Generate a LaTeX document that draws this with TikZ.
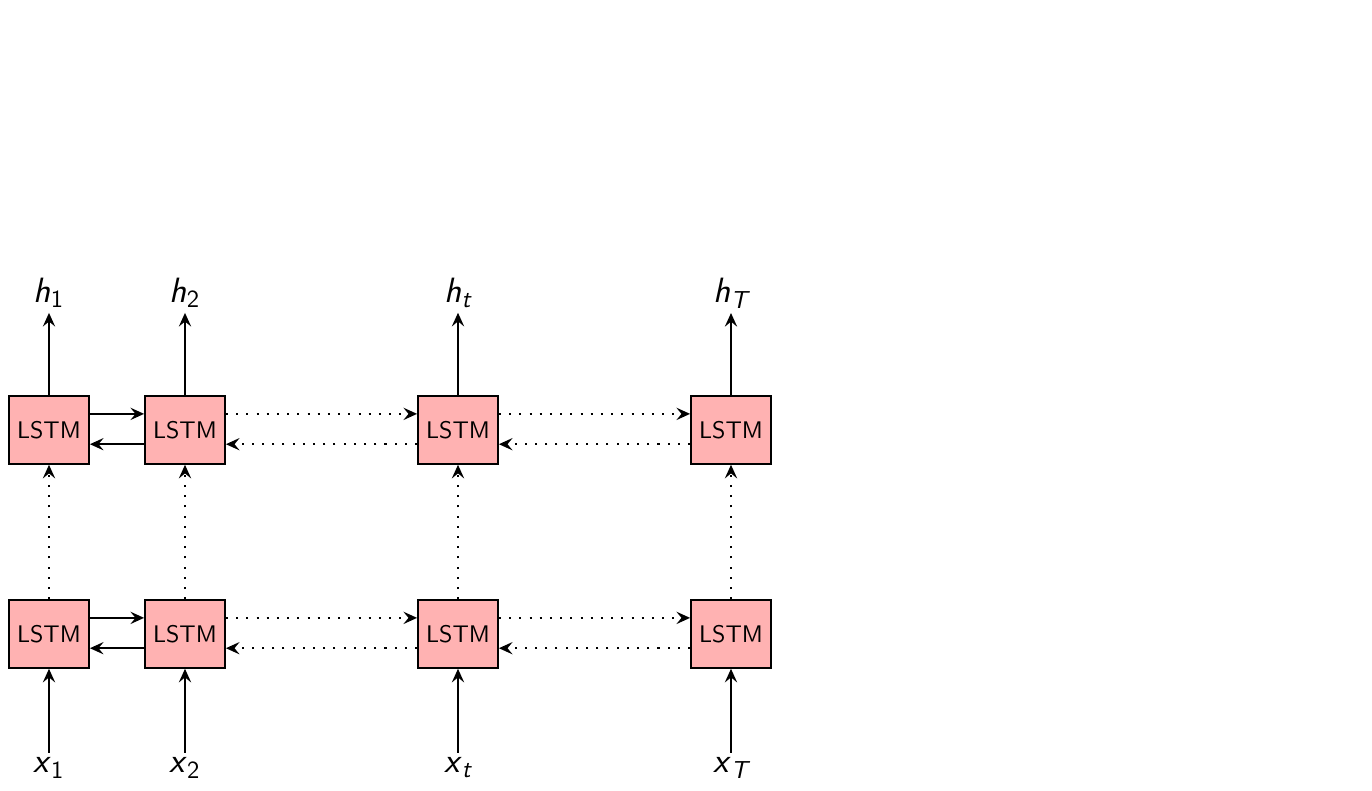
\documentclass[tikz,border=0pt]{standalone}
\usetikzlibrary{arrows.meta}
\tikzset{>={Stealth[length=6pt,width=5.4pt,inset=2.2pt]}}
\newcommand{\lbl}[2]{\textit{#1}\textsubscript{#2}}
\tikzset{
  cell/.style={draw,thick,fill=red!30,minimum width=1.24cm,minimum height=1.05cm,inner sep=0pt,font=\fontsize{10.6}{12}\sffamily},
  lab/.style={font=\fontsize{15.5}{18}\sffamily,inner sep=2pt},
  flow/.style={->,thick},
  skip/.style={->,thick,dash pattern=on 0.9pt off 3.6pt}
}
\begin{document}
\begin{tikzpicture}[x=0.0155cm,y=-0.0155cm]
    \useasboundingbox (0,0) rectangle (1372,790);
    % upper layer
    \node[cell](u1) at (49,430) {LSTM};
    \node[cell](u2) at (185,430) {LSTM};
    \node[cell](ut) at (458,430) {LSTM};
    \node[cell](uT) at (731,430) {LSTM};
    % lower layer
    \node[cell](l1) at (49,634) {LSTM};
    \node[cell](l2) at (185,634) {LSTM};
    \node[cell](lt) at (458,634) {LSTM};
    \node[cell](lT) at (731,634) {LSTM};
    % outputs and inputs
    \node[lab](h1) at (49,293) {\lbl{h}{1}};
    \node[lab](h2) at (185,293) {\lbl{h}{2}};
    \node[lab](ht) at (458,293) {\lbl{h}{\itshape t}};
    \node[lab](hT) at (731,293) {\lbl{h}{\itshape T}};
    \node[lab](x1) at (49,768) {\lbl{x}{1}};
    \node[lab](x2) at (185,768) {\lbl{x}{2}};
    \node[lab](xt) at (458,768) {\lbl{x}{\itshape t}};
    \node[lab](xT) at (731,768) {\lbl{x}{\itshape T}};
    \draw[flow] (u1.north)--(h1.south);
    \draw[flow] (u2.north)--(h2.south);
    \draw[flow] (ut.north)--(ht.south);
    \draw[flow] (uT.north)--(hT.south);
    \draw[flow] (x1.north)--(l1.south);
    \draw[flow] (x2.north)--(l2.south);
    \draw[flow] (xt.north)--(lt.south);
    \draw[flow] (xT.north)--(lT.south);
    % between the layers
    \draw[skip] (l1.north)--(u1.south);
    \draw[skip] (l2.north)--(u2.south);
    \draw[skip] (lt.north)--(ut.south);
    \draw[skip] (lT.north)--(uT.south);
    % forward and backward
    \draw[flow] ([yshift=0.25cm]u1.east)--([yshift=0.25cm]u2.west);
    \draw[flow] ([yshift=-0.22cm]u2.west)--([yshift=-0.22cm]u1.east);
    \draw[skip] ([yshift=0.25cm]u2.east)--([yshift=0.25cm]ut.west);
    \draw[skip] ([yshift=-0.22cm]ut.west)--([yshift=-0.22cm]u2.east);
    \draw[skip] ([yshift=0.25cm]ut.east)--([yshift=0.25cm]uT.west);
    \draw[skip] ([yshift=-0.22cm]uT.west)--([yshift=-0.22cm]ut.east);
    \draw[flow] ([yshift=0.25cm]l1.east)--([yshift=0.25cm]l2.west);
    \draw[flow] ([yshift=-0.22cm]l2.west)--([yshift=-0.22cm]l1.east);
    \draw[skip] ([yshift=0.25cm]l2.east)--([yshift=0.25cm]lt.west);
    \draw[skip] ([yshift=-0.22cm]lt.west)--([yshift=-0.22cm]l2.east);
    \draw[skip] ([yshift=0.25cm]lt.east)--([yshift=0.25cm]lT.west);
    \draw[skip] ([yshift=-0.22cm]lT.west)--([yshift=-0.22cm]lt.east);
\end{tikzpicture}
\end{document}
